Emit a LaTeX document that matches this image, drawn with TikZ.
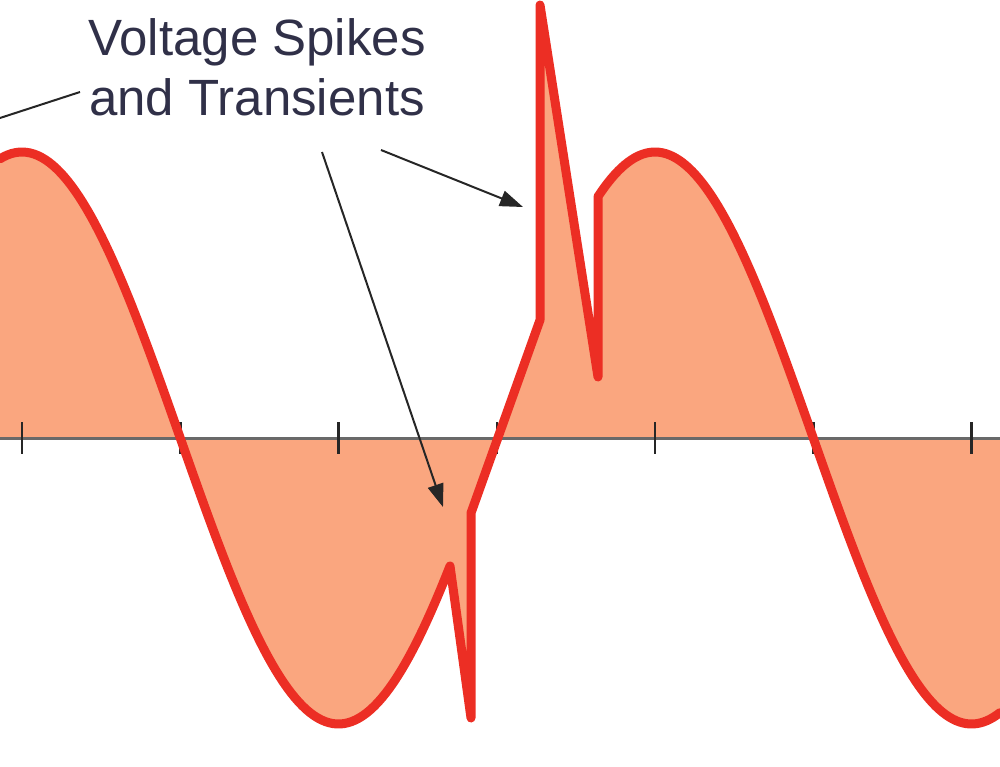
\documentclass[tikz,border=0pt]{standalone}
\usepackage{fontspec}
\setmainfont{Liberation Sans}
\usetikzlibrary{arrows.meta}
\definecolor{wavefill}{RGB}{250,166,127}
\definecolor{wavered}{RGB}{236,46,36}
\definecolor{axisgray}{RGB}{105,105,105}
\definecolor{labeltext}{RGB}{48,48,72}
\newcommand\wavecurve{plot[domain=0:450,samples=120] (\x,{438-286*cos(0.568720*(\x-22))})
  -- (471,718) -- (471,513) -- (540,320) -- (540,5) -- (598,377) -- (598,197)
  -- plot[domain=598:1000,samples=120] (\x,{438-286*cos(0.568720*(\x-22))})}
\tikzset{
  wavestroke/.style={draw=wavered,line width=9pt,line join=round,line cap=round},
  axisline/.style={draw=axisgray,line width=3pt},
  tickline/.style={draw=black!85,line width=2.5pt},
  pointer/.style={draw=black!85,line width=2pt,-{Triangle[length=23pt,width=16pt]}},
  pointerplain/.style={draw=black!85,line width=2pt},
  labelnode/.style={font=\fontsize{51pt}{60pt}\selectfont,text=labeltext,align=center,inner sep=0pt}
}
\begin{document}
\begin{tikzpicture}[x=1pt,y=-1pt]
\useasboundingbox (0,0) rectangle (1000,766);
\fill[wavefill] \wavecurve -- (1000,438) -- (0,438) -- cycle;
\draw[axisline] (0,438) -- (1000,438);
\foreach \t in {0,...,6} {\draw[tickline] ({22+158.25*\t},422) -- ({22+158.25*\t},454);}
\draw[wavestroke] \wavecurve;
\node[labelnode,anchor=north] (label) at (257,18) {Voltage Spikes\\and Transients};
\coordinate (leftstart) at (80,92);
\coordinate (leftend) at (0,118);
\coordinate (downstart) at (322,152);
\coordinate (downtip) at (443,507);
\coordinate (rightstart) at (381,150);
\coordinate (righttip) at (523,207);
\draw[pointerplain] (leftstart) -- (leftend);
\draw[pointer] (downstart) -- (downtip);
\draw[pointer] (rightstart) -- (righttip);
\end{tikzpicture}
\end{document}
